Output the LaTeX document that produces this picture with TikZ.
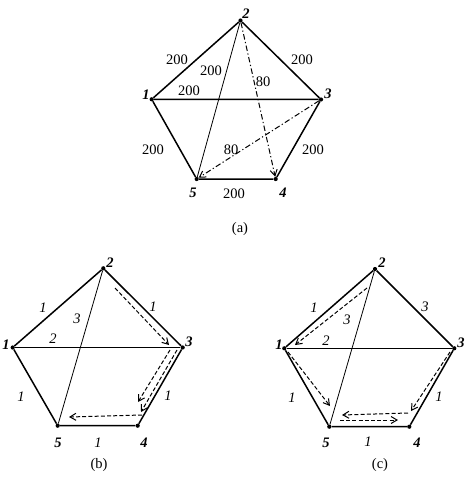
\documentclass[tikz,border=0pt]{standalone}
\usepackage{fontspec}
\setmainfont{Liberation Serif}
\usetikzlibrary{arrows.meta}
\begin{document}
\begin{tikzpicture}[x=1pt,y=-1pt,
  dot/.style={circle,fill=black,inner sep=0pt,minimum size=4.2pt},
  thickedge/.style={line width=1.5pt},
  thinedge/.style={line width=0.8pt},
  dashdotarrow/.style={line width=1pt,dash pattern=on 5.5pt off 2.5pt on 1.2pt off 2.5pt,-{Straight Barb[length=6pt,width=7pt]}},
  dasharrow/.style={line width=1pt,dash pattern=on 4pt off 2.2pt,-{Straight Barb[length=6pt,width=7pt]}},
  vlab/.style={font=\fontsize{14.5}{14.5}\selectfont\bfseries\itshape,inner sep=0pt},
  wlab/.style={font=\fontsize{14.5}{14.5}\selectfont,inner sep=0pt},
  ilab/.style={font=\fontsize{14.5}{14.5}\selectfont\itshape,inner sep=0pt},
  captext/.style={font=\fontsize{14.5}{14.5}\selectfont,inner sep=0pt}]
\useasboundingbox (0,0) rectangle (474,479);

% ---------------- (a) ----------------
\node[dot] (a2) at (240.5,20.5) {};
\node[dot] (a1) at (151.7,99.3) {};
\node[dot] (a3) at (321,99.5) {};
\node[dot] (a5) at (196.7,179) {};
\node[dot] (a4) at (275.7,179) {};
\draw[thickedge] (a1) -- (a2) -- (a3);
\draw[thickedge] (a1) -- (a3);
\draw[thickedge] (a1) -- (a5) -- (a4) -- (a3);
\draw[thinedge] (a2) -- (a5);
\draw[dashdotarrow] (a2) -- (a4);
\draw[dashdotarrow] (a3) -- (a5);
\node[vlab] (la2) at (246,14) {2};
\node[vlab] (la1) at (146,95) {1};
\node[vlab] (la3) at (328,94) {3};
\node[vlab] (la5) at (193,193) {5};
\node[vlab] (la4) at (283,193) {4};
\node[wlab] (wa12) at (177,60) {200};
\node[wlab] (wa25) at (211,71) {200};
\node[wlab] (wa23) at (302,60) {200};
\node[wlab] (wa24) at (263,82) {80};
\node[wlab] (wa13) at (189,91) {200};
\node[wlab] (wa15) at (153,150) {200};
\node[wlab] (wa35) at (231,150) {80};
\node[wlab] (wa34) at (313,150) {200};
\node[wlab] (wa54) at (234,194) {200};
\node[captext] (capa) at (240,229) {(a)};

% ---------------- (b) ----------------
\node[dot] (b2) at (103.3,268.3) {};
\node[dot] (b1) at (12.7,347.5) {};
\node[dot] (b3) at (182.7,347.5) {};
\node[dot] (b5) at (57.7,425.7) {};
\node[dot] (b4) at (137.7,425.7) {};
\draw[thickedge] (b1) -- (b2) -- (b3);
\draw[thickedge] (b1) -- (b3);
\draw[thickedge] (b1) -- (b5) -- (b4) -- (b3);
\draw[thinedge] (b2) -- (b5);
\coordinate (bp1) at (115,288);
\coordinate (bp2) at (169,345);
\coordinate (bp3) at (170,350);
\coordinate (bp4) at (138,402);
\coordinate (bp5) at (177,350);
\coordinate (bp6) at (141,412);
\coordinate (bp7) at (142,415);
\coordinate (bp8) at (69,417);
\draw[dasharrow] (bp1) -- (bp2);
\draw[dasharrow] (bp3) -- (bp4);
\draw[dasharrow] (bp5) -- (bp6);
\draw[dasharrow] (bp7) -- (bp8);
\node[vlab] (lb2) at (110,263) {2};
\node[vlab] (lb1) at (6,345) {1};
\node[vlab] (lb3) at (189,342) {3};
\node[vlab] (lb5) at (58,443) {5};
\node[vlab] (lb4) at (144,443) {4};
\node[ilab] (wb12) at (43,308) {1};
\node[ilab] (wb25) at (77,319) {3};
\node[ilab] (wb23) at (153,307) {1};
\node[ilab] (wb13) at (53,339) {2};
\node[ilab] (wb15) at (21,397) {1};
\node[ilab] (wb34) at (168,396) {1};
\node[ilab] (wb54) at (98,443) {1};
\node[captext] (capb) at (99,465) {(b)};

% ---------------- (c) ----------------
\node[dot] (c2) at (375,269) {};
\node[dot] (c1) at (284.3,348.3) {};
\node[dot] (c3) at (454.3,348.3) {};
\node[dot] (c5) at (329.3,426.7) {};
\node[dot] (c4) at (409.3,426.7) {};
\draw[thickedge] (c1) -- (c2) -- (c3);
\draw[thickedge] (c1) -- (c3);
\draw[thickedge] (c1) -- (c5) -- (c4) -- (c3);
\draw[thinedge] (c2) -- (c5);
\coordinate (cp1) at (367,288);
\coordinate (cp2) at (295,345);
\coordinate (cp3) at (288,352);
\coordinate (cp4) at (330,406);
\coordinate (cp5) at (450,352);
\coordinate (cp6) at (411,411);
\coordinate (cp7) at (408,413);
\coordinate (cp8) at (342,415);
\coordinate (cp9) at (340,420);
\coordinate (cp10) at (398,420);
\draw[dasharrow] (cp1) -- (cp2);
\draw[dasharrow] (cp3) -- (cp4);
\draw[dasharrow] (cp5) -- (cp6);
\draw[dasharrow] (cp7) -- (cp8);
\draw[dasharrow] (cp9) -- (cp10);
\node[vlab] (lc2) at (382,263) {2};
\node[vlab] (lc1) at (279,345) {1};
\node[vlab] (lc3) at (461,343) {3};
\node[vlab] (lc5) at (326,443) {5};
\node[vlab] (lc4) at (417,443) {4};
\node[ilab] (wc12) at (314,308) {1};
\node[ilab] (wc25) at (347,320) {3};
\node[ilab] (wc23) at (425,307) {3};
\node[ilab] (wc13) at (326,341) {2};
\node[ilab] (wc15) at (292,398) {1};
\node[ilab] (wc34) at (439,397) {1};
\node[ilab] (wc54) at (368,442) {1};
\node[captext] (capc) at (380,465) {(c)};
\end{tikzpicture}
\end{document}
